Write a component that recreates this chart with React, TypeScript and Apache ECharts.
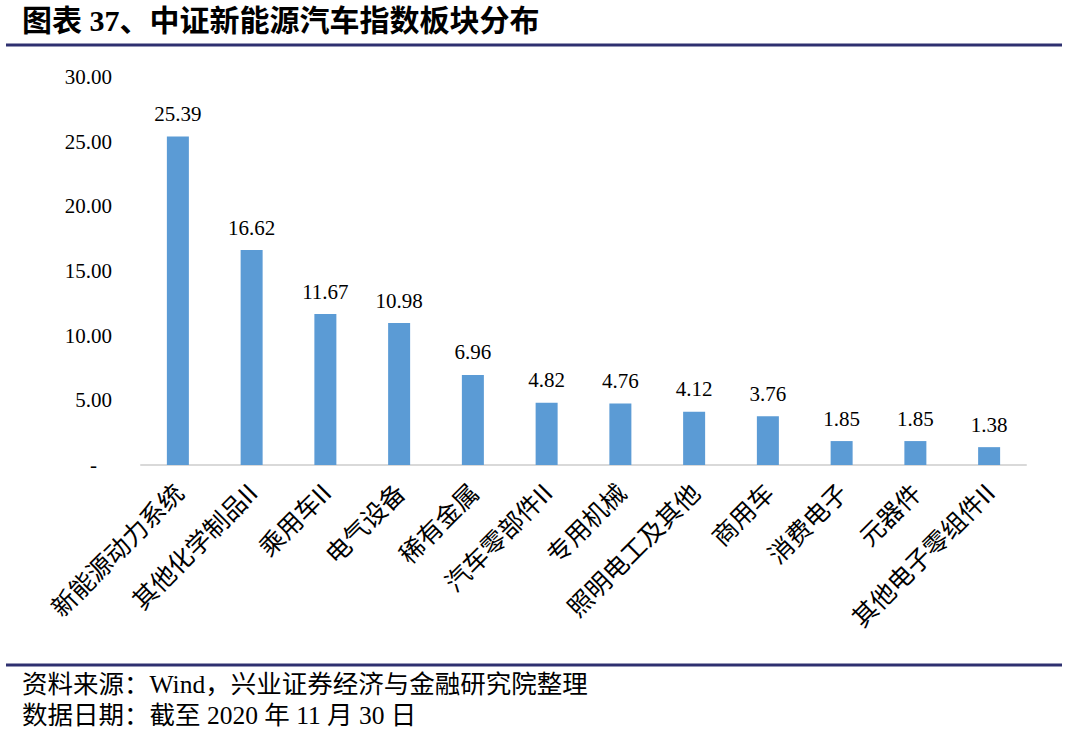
import React, { useEffect, useRef } from "react";
import * as echarts from "echarts";

const categories = ["新能源动力系统", "其他化学制品II", "乘用车II", "电气设备", "稀有金属", "汽车零部件II", "专用机械", "照明电工及其他", "商用车", "消费电子", "元器件", "其他电子零组件II"];
const values = [25.39, 16.62, 11.67, 10.98, 6.96, 4.82, 4.76, 4.12, 3.76, 1.85, 1.85, 1.38];
const title = "图表 37、中证新能源汽车指数板块分布";
const source = "资料来源：Wind，兴业证券经济与金融研究院整理";
const dateNote = "数据日期：截至 2020 年 11 月 30 日";

const SERIF = "'Liberation Serif', 'Times New Roman', 'Noto Sans CJK SC', serif";

export default function App() {
  const ref = useRef<HTMLDivElement>(null);
  useEffect(() => {
    document.body.style.margin = "0";
    const chart = echarts.init(ref.current!, null, { renderer: "svg" });
    chart.setOption({
      animation: false,
      backgroundColor: "#ffffff",
      grid: { left: 141, right: 51, top: 77, bottom: 271, containLabel: false },
      xAxis: {
        type: "category",
        data: categories,
        axisLine: { lineStyle: { color: "#D9D9D9", width: 2 } },
        axisTick: { show: false },
        axisLabel: {
          rotate: 45,
          interval: 0,
          margin: 22,
          fontSize: 25,
          color: "#000",
          fontFamily: "'Noto Sans CJK SC', " + SERIF,
        },
      },
      yAxis: {
        type: "value",
        min: 0,
        max: 30,
        interval: 5,
        splitLine: { show: false },
        axisLine: { show: false },
        axisTick: { show: false },
        axisLabel: {
          margin: 29,
          fontSize: 21,
          color: "#000",
          fontFamily: SERIF,
          formatter: (v: number) => (v === 0 ? "{z|-}" : v.toFixed(2)),
          rich: { z: { fontSize: 21, fontFamily: SERIF, color: "#000", padding: [0, 15, 0, 0] } },
        },
      },
      series: [
        {
          type: "bar",
          data: values,
          barWidth: 22,
          itemStyle: { color: "#5B9BD5" },
          label: {
            show: true,
            position: "top",
            distance: 12,
            fontSize: 21,
            color: "#000",
            fontFamily: SERIF,
            formatter: (p: any) => p.value.toFixed(2),
          },
        },
      ],
      graphic: [
        {
          type: "text",
          left: 22,
          top: 5,
          style: { text: title, fontSize: 30, fontWeight: "bold", fill: "#000", fontFamily: SERIF },
        },
        {
          type: "line",
          shape: { x1: 6, y1: 45, x2: 1062, y2: 45 },
          style: { stroke: "#2E3070", lineWidth: 3 },
        },
        {
          type: "line",
          shape: { x1: 6, y1: 665, x2: 1062, y2: 665 },
          style: { stroke: "#2E3070", lineWidth: 3 },
        },
        {
          type: "text",
          left: 22,
          top: 672,
          style: { text: source, fontSize: 25.5, fill: "#000", fontFamily: SERIF },
        },
        {
          type: "text",
          left: 22,
          top: 703,
          style: { text: dateNote, fontSize: 25.5, fill: "#000", fontFamily: SERIF },
        },
      ],
    });
    return () => chart.dispose();
  }, []);
  return <div ref={ref} style={{ width: 1077, height: 736 }} />;
}
